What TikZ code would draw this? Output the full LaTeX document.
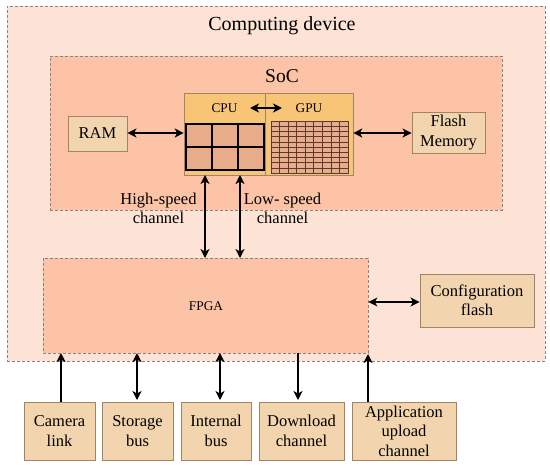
\documentclass[tikz,border=0pt]{standalone}
\usepackage{fontspec}
\setmainfont{Liberation Serif}
\usetikzlibrary{arrows.meta}
\definecolor{outerfill}{HTML}{FDE3D5}
\definecolor{socfill}{HTML}{FCC3A6}
\definecolor{chipfill}{HTML}{F8C475}
\definecolor{cellfill}{HTML}{E8AC8A}
\definecolor{tanfill}{HTML}{F2D5AE}
\definecolor{tanline}{HTML}{A08468}
\definecolor{dashline}{HTML}{8A8280}
\definecolor{gridline}{HTML}{5A3A2C}
\tikzset{
  dashbox/.style={draw=dashline, line width=0.7pt, dash pattern=on 3pt off 2pt, rectangle, inner sep=0pt},
  tanbox/.style={draw=tanline, fill=tanfill, line width=0.9pt, rectangle, inner sep=0pt, align=center,
    font=\fontsize{16.5}{19.5}\selectfont},
  lbl/.style={inner sep=0pt, align=center, font=\fontsize{16.5}{19.5}\selectfont},
  arr/.style={line width=1.5pt, -{Stealth[length=9pt,width=9pt,inset=2.5pt]}},
  darr/.style={line width=1.5pt, {Stealth[length=9pt,width=9pt,inset=2.5pt]}-{Stealth[length=9pt,width=9pt,inset=2.5pt]}},
}
\begin{document}
\begin{tikzpicture}[x=1pt,y=-1pt]
\useasboundingbox (0,0) rectangle (550,469);
\fill[white] (0,0) rectangle (550,469);
% outer
\node[dashbox, fill=outerfill, minimum width=538pt, minimum height=355pt] (outer) at (276,183.5) {};
\node[inner sep=0pt, font=\fontsize{20}{24}\selectfont] (title) at (282,26) {Computing device};
% SoC
\node[dashbox, fill=socfill, minimum width=452pt, minimum height=154pt] (soc) at (276,133) {};
\node[inner sep=0pt, font=\fontsize{19.5}{23}\selectfont] (soclbl) at (282,76) {SoC};
% CPU/GPU chip
\node[draw=tanline, fill=chipfill, line width=0.6pt, rectangle, inner sep=0pt, minimum width=169pt, minimum height=82pt] (chip) at (268.5,134) {};
\draw[draw=tanline, line width=0.6pt] (265,93) -- (265,175);
\node[inner sep=0pt, font=\fontsize{13.3}{16}\selectfont] (cpulbl) at (224.5,108) {CPU};
\node[inner sep=0pt, font=\fontsize{13.3}{16}\selectfont] (gpulbl) at (309,108) {GPU};
\coordinate (cga) at (250,108);
\coordinate (cgb) at (282,108);
\draw[darr] (cga) -- (cgb);
% CPU grid
\node[draw=black, fill=cellfill, line width=1.8pt, rectangle, inner sep=0pt, minimum width=78pt, minimum height=46pt] (cpugrid) at (225,147) {};
\draw[line width=1.8pt] (212,124) -- (212,170) (238,124) -- (238,170) (186,147) -- (264,147);
% GPU grid
\node[draw=gridline, fill=cellfill, line width=0.6pt, rectangle, inner sep=0pt, minimum width=77pt, minimum height=52pt] (gpugrid) at (309.5,147) {};
\foreach \i in {1,...,8} {\draw[gridline, line width=0.6pt] ({271+\i*77/9},121) -- ({271+\i*77/9},173);}
\foreach \j in {1,...,9} {\draw[gridline, line width=0.6pt] (271,{121+\j*5.2}) -- (348,{121+\j*5.2});}
% RAM, Flash
\node[tanbox, minimum width=59pt, minimum height=35pt] (ram) at (97.5,133.5) {RAM};
\node[tanbox, minimum width=73pt, minimum height=41pt] (flash) at (448.5,132.5) {Flash\\Memory};
\draw[darr] (ram.east |- 0,133) -- (chip.west |- 0,133);
\draw[darr] (chip.east |- 0,133) -- (flash.west |- 0,133);
% FPGA
\node[dashbox, fill=socfill, minimum width=325pt, minimum height=95pt] (fpga) at (205.5,305.5) {};
\node[inner sep=0pt, font=\fontsize{13.3}{16}\selectfont] (fpgalbl) at (206,306) {FPGA};
% channels
\draw[darr] (205,175) -- (205,258);
\draw[darr] (240,175) -- (240,258);
\node[lbl] (hs) at (158.5,208.5) {High-speed\\channel};
\node[lbl] (ls) at (282.5,208.5) {Low- speed\\channel};
% config flash
\node[tanbox, minimum width=114pt, minimum height=53pt] (cfg) at (477,300.5) {Configuration\\flash};
\draw[darr] (fpga.east |- 0,302) -- (cfg.west |- 0,302);
% bottom boxes
\node[tanbox, minimum width=71pt, minimum height=58pt] (cam) at (59.5,431) {Camera\\link};
\node[tanbox, minimum width=71pt, minimum height=58pt] (stor) at (137.5,431) {Storage\\bus};
\node[tanbox, minimum width=70pt, minimum height=58pt] (intb) at (216,431) {Internal\\bus};
\node[tanbox, minimum width=85pt, minimum height=58pt] (down) at (301.5,431) {Download\\channel};
\node[tanbox, minimum width=104pt, minimum height=58pt] (app) at (404,431) {Application\\upload\\channel};
\draw[arr] (61,402) -- (61,353);
\draw[darr] (137,400) -- (137,353);
\draw[darr] (220,400) -- (220,353);
\draw[arr] (298,353) -- (298,400);
\draw[arr] (368,402) -- (368,354);
\end{tikzpicture}
\end{document}
